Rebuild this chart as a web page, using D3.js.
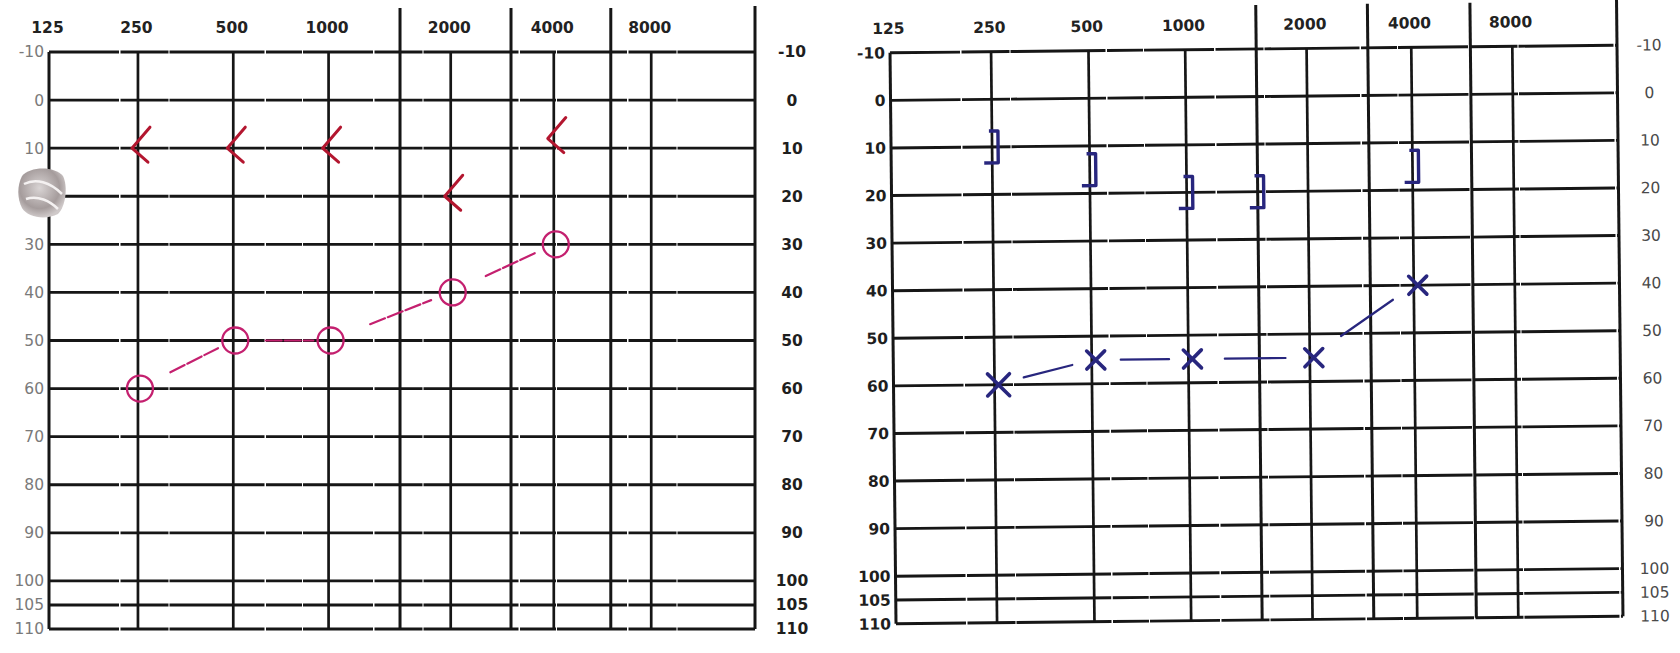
<!DOCTYPE html>
<html lang="en">
<head>
<meta charset="UTF-8">
<title>Audiogram</title>
<script src="https://cdn.jsdelivr.net/npm/d3@7"></script>
<style>
  body { margin: 0; background: #fff; }
  svg { display: block; }
  .tick text { font-family: "DejaVu Sans", sans-serif; }
</style>
</head>
<body>
<script>
// --- data ---
var freqTicks = [125, 250, 500, 1000, 2000, 4000, 8000];
var octaveLines = [250, 500, 1000, 2000, 4000, 8000];
var halfOctaveLines = [1500, 3000, 6000];
var dbTicks = [-10, 0, 10, 20, 30, 40, 50, 60, 70, 80, 90, 100, 105, 110];

// right ear (red): air conduction O, bone conduction <
var rightAirFreq = [250, 500, 1000, 2000, 4000];
var rightAirDb = [60, 50, 50, 40, 30];
var rightBoneFreq = [250, 500, 1000, 2000, 4000];
var rightBoneDb = [10, 10, 10, 20, 8];

// left ear (blue): air conduction X, bone conduction ]
var leftAirFreq = [250, 500, 1000, 2000, 4000];
var leftAirDb = [60, 55, 55, 55, 40];
var leftBoneFreq = [250, 500, 1000, 1500, 4000];
var leftBoneDb = [10, 15, 20, 20, 15];

var W = 1680, H = 653;
var svg = d3.select("body").append("svg").attr("width", W).attr("height", H);

// the printed form is not evenly spaced, so the log scale is piecewise
var scaleDomain = [125, 250, 500, 1000, 2000, 4000, 8000, 16000];

var panels = [
  { x0: 49, x1: 755, y0: 52, y1: 629, angle: 0,
    stops: [0, .126, .261, .396, .569, .715, .853, 1],
    leftColor: "#7a7a7a", leftWeight: "normal", rightColor: "#1e1e1e", rightWeight: "bold",
    leftLabelX: 44, rightLabelX: 792 },
  { x0: 893, x1: 1620, y0: 49, y1: 620, angle: -0.6,
    stops: [0, .139, .273, .406, .573, .717, .856, 1],
    leftColor: "#1e1e1e", leftWeight: "bold", rightColor: "#4a4a4a", rightWeight: "normal",
    leftLabelX: 888, rightLabelX: 1652 }
];

panels.forEach(function (p) {
  p.x = d3.scaleLog().domain(scaleDomain)
    .range(p.stops.map(function (s) { return p.x0 + s * (p.x1 - p.x0); }));
  p.y = d3.scaleLinear().domain([-10, 110]).range([p.y0, p.y1]);
  var cx = (p.x0 + p.x1) / 2, cy = (p.y0 + p.y1) / 2;
  p.g = svg.append("g").attr("transform", "rotate(" + p.angle + "," + cx + "," + cy + ")");
});

var ink = "#161616";

function drawGrid(p) {
  var g = p.g;
  // horizontal dB lines
  g.selectAll("line.h").data(dbTicks).enter().append("line")
    .attr("x1", p.x(125)).attr("x2", p.x(16000))
    .attr("y1", function (d) { return p.y(d); })
    .attr("y2", function (d) { return p.y(d); })
    .attr("stroke", ink).attr("stroke-width", 2.9)
    .attr("stroke-dasharray", "70 1.5 48 1 95 1.5 36 1");
  // octave lines
  g.selectAll("line.v").data(octaveLines).enter().append("line")
    .attr("x1", function (d) { return p.x(d); })
    .attr("x2", function (d) { return p.x(d); })
    .attr("y1", p.y(-10)).attr("y2", p.y(110))
    .attr("stroke", ink).attr("stroke-width", 2.7);
  // half-octave separators run up through the label row
  g.selectAll("line.hv").data(halfOctaveLines).enter().append("line")
    .attr("x1", function (d) { return p.x(d); })
    .attr("x2", function (d) { return p.x(d); })
    .attr("y1", p.y(-10) - 44).attr("y2", p.y(110))
    .attr("stroke", ink).attr("stroke-width", 3);
  // frame left / right
  g.append("line").attr("x1", p.x(125)).attr("x2", p.x(125))
    .attr("y1", p.y(-10)).attr("y2", p.y(110))
    .attr("stroke", ink).attr("stroke-width", 3);
  g.append("line").attr("x1", p.x(16000)).attr("x2", p.x(16000))
    .attr("y1", p.y(-10) - 46).attr("y2", p.y(110))
    .attr("stroke", ink).attr("stroke-width", 3);
}

function drawAxes(p) {
  var top = p.g.append("g").attr("transform", "translate(0," + (p.y0 - 16) + ")")
    .call(d3.axisTop(p.x).tickValues(freqTicks).tickSize(0).tickFormat(String));
  top.select(".domain").remove();
  top.selectAll("text").attr("font-size", 15.5).attr("font-weight", "bold")
    .attr("fill", "#222").attr("dx", -2);

  var left = p.g.append("g").attr("transform", "translate(" + p.leftLabelX + ",0)")
    .call(d3.axisLeft(p.y).tickValues(dbTicks).tickSize(0).tickPadding(0).tickFormat(String));
  left.select(".domain").remove();
  left.selectAll("text").attr("font-size", 15.5).attr("font-weight", p.leftWeight)
    .attr("fill", p.leftColor);

  var right = p.g.append("g").attr("transform", "translate(" + p.rightLabelX + ",0)")
    .call(d3.axisRight(p.y).tickValues(dbTicks).tickSize(0).tickPadding(0).tickFormat(String));
  right.select(".domain").remove();
  right.selectAll("text").attr("font-size", 15.5).attr("font-weight", p.rightWeight)
    .attr("fill", p.rightColor).attr("text-anchor", "middle");
}

panels.forEach(function (p) { drawGrid(p); drawAxes(p); });

// scan smudge over the left "20" label
var grad = svg.append("defs").append("radialGradient").attr("id", "smudge")
  .attr("cx", "45%").attr("cy", "40%").attr("r", "60%");
grad.append("stop").attr("offset", "0%").attr("stop-color", "#d9d4d4");
grad.append("stop").attr("offset", "70%").attr("stop-color", "#a59c9c");
grad.append("stop").attr("offset", "100%").attr("stop-color", "#cfc9c9");
var smudge = svg.append("g");
smudge.append("path")
  .attr("d", "M22,176 C30,166 55,166 63,176 C68,186 66,206 58,214 C46,220 28,218 22,208 C17,198 17,186 22,176 Z")
  .attr("fill", "url(#smudge)");
smudge.append("path")
  .attr("d", "M24,184 C36,178 50,182 62,194 M26,199 C38,195 50,201 58,209")
  .attr("fill", "none").attr("stroke", "#f4f1f1").attr("stroke-width", 2.5);

// connecting strokes between consecutive air-conduction points
function connectors(p, freqs, dbs, color, dash, t0, t1) {
  var pairs = d3.pairs(d3.zip(freqs, dbs));
  p.g.selectAll(null).data(pairs).enter().append("line")
    .attr("x1", function (d) { return p.x(d[0][0]) + t0 * (p.x(d[1][0]) - p.x(d[0][0])); })
    .attr("y1", function (d) { return p.y(d[0][1]) + t0 * (p.y(d[1][1]) - p.y(d[0][1])); })
    .attr("x2", function (d) { return p.x(d[0][0]) + t1 * (p.x(d[1][0]) - p.x(d[0][0])); })
    .attr("y2", function (d) { return p.y(d[0][1]) + t1 * (p.y(d[1][1]) - p.y(d[0][1])); })
    .attr("stroke", color).attr("stroke-width", 2.2)
    .attr("stroke-dasharray", dash).attr("stroke-linecap", "round");
}

var red = "#b3162f", magenta = "#c4206f", navy = "#28267e";

// right ear panel
var pR = panels[0];
connectors(pR, rightAirFreq, rightAirDb, magenta, "16 3", 0.34, 0.84);
pR.g.selectAll("circle.air").data(d3.zip(rightAirFreq, rightAirDb)).enter().append("circle")
  .attr("cx", function (d) { return pR.x(d[0]) + 2; })
  .attr("cy", function (d) { return pR.y(d[1]); })
  .attr("r", 13).attr("fill", "none").attr("stroke", magenta).attr("stroke-width", 2.3);
pR.g.selectAll("path.bone").data(d3.zip(rightBoneFreq, rightBoneDb)).enter().append("path")
  .attr("d", function (d) {
    var x = pR.x(d[0]), y = pR.y(d[1]);
    return "M" + (x + 12) + "," + (y - 21) + "L" + (x - 6) + "," + y + "L" + (x + 10) + "," + (y + 14);
  })
  .attr("fill", "none").attr("stroke", red).attr("stroke-width", 3)
  .attr("stroke-linejoin", "round").attr("stroke-linecap", "round");

// left ear panel
var pL = panels[1];
connectors(pL, leftAirFreq, leftAirDb, navy, null, 0.3, 0.8);
pL.g.selectAll("path.air").data(d3.zip(leftAirFreq, leftAirDb)).enter().append("path")
  .attr("d", function (d, i) {
    var x = pL.x(d[0]) + 4, y = pL.y(d[1]), s = i === 0 ? 11 : 9;
    return "M" + (x - s) + "," + (y - s) + "L" + (x + s) + "," + (y + s) +
      "M" + (x + s) + "," + (y - s) + "L" + (x - s) + "," + (y + s);
  })
  .attr("fill", "none").attr("stroke", navy).attr("stroke-width", 3.6)
  .attr("stroke-linecap", "round");
pL.g.selectAll("path.bone").data(d3.zip(leftBoneFreq, leftBoneDb)).enter().append("path")
  .attr("d", function (d) {
    var x = pL.x(d[0]) + 6, y = pL.y(d[1]);
    return "M" + (x - 9) + "," + (y - 16) + "L" + x + "," + (y - 16) + "L" + x + "," + (y + 16) +
      "L" + (x - 14) + "," + (y + 16);
  })
  .attr("fill", "none").attr("stroke", navy).attr("stroke-width", 3.4)
  .attr("stroke-linejoin", "round");
</script>
</body>
</html>
